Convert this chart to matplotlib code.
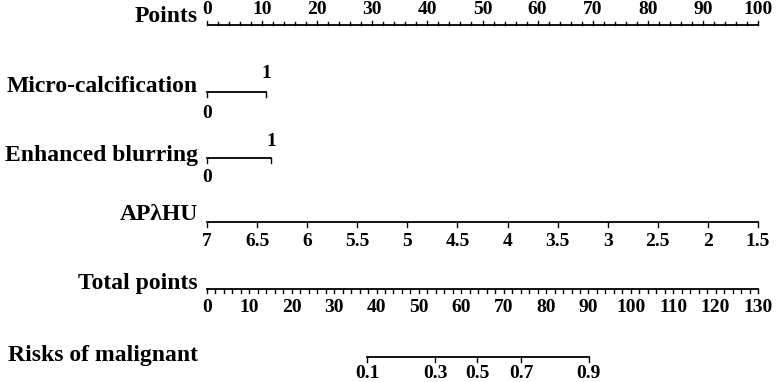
import numpy as np
import matplotlib
matplotlib.use("Agg")
import matplotlib.pyplot as plt

plt.rcParams["font.family"] = ["Liberation Serif", "DejaVu Serif"]
plt.rcParams["font.weight"] = "bold"

# ---------------- data ----------------
points_ticks = list(range(0, 101, 10))
points_minor = list(range(0, 101, 2))

micro_values = ["0", "1"]
micro_points = [0.0, 10.7]

blur_values = ["0", "1"]
blur_points = [0.0, 11.6]

aplhu_values = [7, 6.5, 6, 5.5, 5, 4.5, 4, 3.5, 3, 2.5, 2, 1.5]
aplhu_labels = ["7", "6.5", "6", "5.5", "5", "4.5", "4", "3.5", "3", "2.5", "2", "1.5"]
aplhu_range = (7.0, 1.5)          # value at 0 points, value at 100 points

total_ticks = list(range(0, 131, 10))
total_minor = list(range(0, 131, 2))
total_max = 130

risk_values = [0.1, 0.3, 0.5, 0.7, 0.9]
risk_labels = ["0.1", "0.3", "0.5", "0.7", "0.9"]
risk_total_points = [37.75, 53.8, 63.8, 74.1, 90.1]

row_labels = ["Points", "Micro-calcification", "Enhanced blurring",
              "AP\u03bbHU", "Total points", "Risks of malignant"]

# ---------------- figure ----------------
W, H = 777, 382
fig = plt.figure(figsize=(W / 100, H / 100), dpi=100)
ax = fig.add_axes([0, 0, 1, 1])
px_per_pt = (758 - 207) / 100.0
ax.set_xlim(-207 / px_per_pt, (W - 207) / px_per_pt)
ax.set_ylim(H, 0)
ax.axis("off")

LBL = 17
TCK = 14
LW = 1.3
TLW = 1.0
col = "black"

def total_to_pts(t):
    return np.asarray(t, dtype=float) * 100.0 / total_max

def aplhu_to_pts(v):
    v0, v1 = aplhu_range
    return (v0 - np.asarray(v, dtype=float)) / (v0 - v1) * 100.0

label_x = -9 / px_per_pt  # right edge of row labels

def row_label(text, y):
    ax.text(label_x, y, text, ha="right", va="center", fontsize=LBL,
            fontweight="bold", color=col)

def tick_label(x, y, text, va="center"):
    ax.text(x, y, text, ha="center", va=va, fontsize=TCK,
            fontweight="bold", color=col)

# Points row
y = 25
ax.plot([0, 100], [y, y], color=col, lw=LW, solid_capstyle="butt")
for p in points_minor:
    ln = 4.5 if p % 10 == 0 else 3.0
    ax.plot([p, p], [y, y - ln], color=col, lw=TLW)
for p in points_ticks:
    tick_label(p, 0.5, str(p), va="top")
row_label(row_labels[0], 17)

# binary rows
def binary_row(vals, pts, y, ylab, y_lab, y_up, y_down):
    ax.plot([pts[0], pts[1]], [y, y], color=col, lw=LW)
    for p in pts:
        ax.plot([p, p], [y, y + 5], color=col, lw=TLW)
    tick_label(pts[0], y_down, vals[0])
    tick_label(pts[1], y_up, vals[1])
    row_label(ylab, y_lab)

binary_row(micro_values, micro_points, 92, row_labels[1], 87, 74, 113)
binary_row(blur_values, blur_points, 158, row_labels[2], 156, 141, 178)

# APλHU row
y = 222
ap = aplhu_to_pts(aplhu_values)
ax.plot([ap.min(), ap.max()], [y, y], color=col, lw=LW)
for p, lab in zip(ap, aplhu_labels):
    ax.plot([p, p], [y, y + 5], color=col, lw=TLW)
    tick_label(p, 242, lab)
row_label(row_labels[3], 214)

# Total points row
y = 289
tp_minor = total_to_pts(total_minor)
ax.plot([tp_minor.min(), tp_minor.max()], [y, y], color=col, lw=LW)
for p in tp_minor:
    ax.plot([p, p], [y, y + 4], color=col, lw=TLW)
for t in total_ticks:
    tick_label(total_to_pts(t), 307, str(t))
row_label(row_labels[4], 284)

# Risk row
y = 357
rp = total_to_pts(risk_total_points)
ax.plot([rp.min(), rp.max()], [y, y], color=col, lw=LW)
for p, lab in zip(rp, risk_labels):
    ax.plot([p, p], [y, y + 5], color=col, lw=TLW)
    tick_label(p, 373, lab)
row_label(row_labels[5], 355)

fig.savefig("out.png", dpi=100)
